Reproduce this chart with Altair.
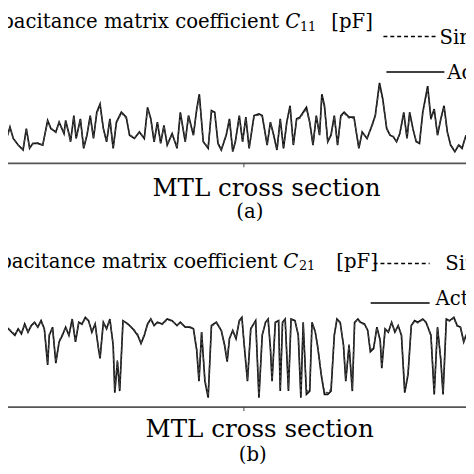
import pandas as pd
import altair as alt

# positions along the MTL cross section (arbitrary sample units)
A_POS = [0, 15, 30, 40, 55, 70, 80, 90, 100, 115,
         130, 145, 155, 170, 180, 195, 200, 210, 215, 225,
         232, 245, 255, 265, 275, 285, 295, 305, 315, 325,
         335, 345, 355, 370, 385, 395, 410, 425, 440, 450,
         460, 470, 480, 490, 500, 510, 525, 540, 550, 565,
         575, 590, 600, 608, 620, 635, 645, 655, 665, 675,
         690, 700, 710, 718, 730, 740, 750, 760, 775, 790,
         800, 815, 825, 835, 845, 855, 865, 875, 885, 895,
         905, 915, 925, 935, 945, 955, 965, 975, 982, 990,
         1000, 1010, 1020, 1030, 1040, 1050, 1065, 1080, 1095, 1105,
         1120, 1135, 1145, 1158, 1168, 1180, 1190, 1200, 1210, 1220,
         1232, 1242, 1250, 1260, 1270, 1280, 1290, 1305, 1315, 1325,
         1335, 1345, 1355, 1365, 1375, 1388, 1400, 1410, 1422]

C11_ACTUAL = [0.70, 0.75, 1.25, 0.90, 0.70, 0.55, 1.20, 0.60, 0.75, 0.75,
              0.70, 1.45, 1.20, 1.10, 1.40, 1.05, 1.45, 1.05, 0.80, 1.60,
              0.90, 1.50, 0.60, 1.00, 1.60, 0.90, 1.70, 1.95, 1.20, 0.80,
              1.50, 0.60, 1.40, 1.70, 1.55, 1.00, 0.90, 1.10, 0.90, 1.85,
              1.50, 0.80, 1.40, 0.75, 1.30, 0.70, 1.05, 0.60, 1.70, 0.80,
              1.60, 1.00, 1.80, 2.25, 0.80, 0.60, 1.75, 1.70, 0.75, 0.55,
              1.00, 1.50, 0.50, 0.80, 1.60, 0.80, 1.55, 0.60, 1.60, 1.65,
              1.60, 0.70, 1.40, 1.00, 0.55, 1.50, 0.60, 1.40, 1.90, 0.70,
              1.50, 1.55, 1.70, 1.85, 1.40, 0.70, 1.60, 1.00, 2.25, 1.90,
              0.80, 1.00, 1.60, 0.70, 1.60, 1.70, 1.55, 1.55, 0.60, 1.10,
              0.90, 1.30, 1.60, 2.60, 2.10, 1.20, 1.00, 0.95, 0.80, 1.05,
              1.70, 0.90, 1.70, 1.20, 0.80, 0.75, 1.70, 2.50, 1.50, 1.80,
              1.00, 1.50, 1.90, 1.10, 0.70, 0.50, 0.70, 0.60, 1.00]

C11_SIM = [0.72, 0.74, 1.22, 0.92, 0.70, 0.57, 1.17, 0.62, 0.74, 0.77,
           0.70, 1.42, 1.22, 1.08, 1.38, 1.07, 1.42, 1.03, 0.83, 1.56,
           0.92, 1.47, 0.62, 1.02, 1.57, 0.92, 1.66, 1.90, 1.22, 0.82,
           1.47, 0.62, 1.38, 1.67, 1.52, 1.02, 0.92, 1.08, 0.92, 1.80,
           1.48, 0.82, 1.37, 0.77, 1.28, 0.72, 1.03, 0.62, 1.66, 0.82,
           1.57, 1.02, 1.76, 2.18, 0.82, 0.62, 1.72, 1.67, 0.77, 0.57,
           1.02, 1.47, 0.52, 0.82, 1.57, 0.82, 1.52, 0.62, 1.57, 1.62,
           1.57, 0.72, 1.38, 1.02, 0.57, 1.47, 0.62, 1.38, 1.85, 0.72,
           1.47, 1.52, 1.67, 1.80, 1.38, 0.72, 1.57, 1.02, 2.18, 1.86,
           0.82, 1.02, 1.57, 0.72, 1.57, 1.67, 1.52, 1.52, 0.62, 1.08,
           0.92, 1.28, 1.57, 2.52, 2.05, 1.22, 1.02, 0.97, 0.82, 1.03,
           1.66, 0.92, 1.66, 1.18, 0.82, 0.77, 1.66, 2.43, 1.48, 1.76,
           1.02, 1.47, 1.85, 1.08, 0.72, 0.52, 0.72, 0.62, 0.98]

B_POS = [0, 15, 30, 45, 55, 65, 75, 85, 95, 105,
         115, 125, 135, 145, 150, 160, 170, 180, 190, 200,
         210, 220, 230, 240, 250, 260, 270, 280, 290, 300,
         305, 315, 325, 335, 345, 350, 358, 365, 375, 390,
         405, 420, 430, 440, 450, 460, 470, 480, 495, 510,
         525, 540, 550, 565, 580, 590, 600, 607, 615, 625,
         635, 645, 660, 675, 685, 693, 700, 710, 720, 730,
         738, 745, 755, 765, 780, 790, 800, 810, 818, 825,
         830, 840, 850, 855, 862, 870, 880, 888, 900, 910,
         918, 925, 935, 945, 952, 962, 970, 980, 990, 1000,
         1010, 1020, 1028, 1038, 1048, 1055, 1065, 1075, 1082, 1092,
         1100, 1112, 1122, 1130, 1140, 1150, 1160, 1165, 1175, 1185,
         1195, 1205, 1215, 1225, 1235, 1245, 1255, 1265, 1275, 1290,
         1300, 1315, 1325, 1335, 1345, 1352, 1362, 1372, 1385, 1395,
         1405, 1415, 1422]

C21_ACTUAL = [-0.20, -0.25, -0.40, -0.55, -0.35, -0.50, -0.20, -0.45, -0.25, -0.15,
              -0.30, -0.10, -0.35, -1.45, -0.55, -0.30, -1.40, -0.75, -0.55, -0.30,
              -0.55, -0.05, -0.75, -0.15, -0.20, 0.00, -0.10, -0.45, -0.20, -0.95,
              -1.25, -0.15, -0.35, -0.05, -0.85, -2.30, -1.35, -2.25, -0.10, -0.20,
              -0.35, -0.55, -0.80, -0.55, -0.20, -0.05, -0.25, -0.15, -0.20, -0.05,
              -0.10, -0.25, -0.15, -0.30, -0.30, -0.35, -1.00, -1.95, -0.45, -1.95,
              -2.45, -0.25, -0.15, -0.40, -0.85, -1.35, -0.65, -0.40, -0.65, -0.10,
              0.00, -0.85, -1.95, -0.35, -0.10, -2.45, -0.55, -0.15, -0.05, -0.95,
              -1.95, -0.15, -0.10, -2.25, -0.15, -0.05, -2.25, -0.05, -0.10, -0.55,
              -2.45, -0.15, -2.35, -2.25, -0.15, -0.45, -0.95, -1.75, -2.35, -2.35,
              -2.25, -0.55, -0.05, -0.15, -0.85, -1.95, -0.85, -2.25, -0.15, -0.05,
              -0.15, -0.20, -0.40, -1.05, -0.95, -0.30, -0.70, -1.55, -0.35, -0.45,
              -0.15, -0.45, -0.25, -0.55, -2.30, -1.75, -0.25, -0.10, -0.15, -0.05,
              -0.15, -0.55, -2.35, -0.30, -1.30, -2.35, -0.05, -0.10, 0.00, -0.25,
              -0.30, -0.75, -0.55]

C21_SIM = [-0.22, -0.27, -0.38, -0.52, -0.37, -0.48, -0.22, -0.43, -0.27, -0.17,
           -0.28, -0.12, -0.37, -1.40, -0.52, -0.32, -1.35, -0.72, -0.52, -0.32,
           -0.52, -0.07, -0.72, -0.17, -0.22, -0.02, -0.12, -0.43, -0.22, -0.92,
           -1.20, -0.17, -0.33, -0.07, -0.82, -2.22, -1.30, -2.18, -0.12, -0.22,
           -0.33, -0.52, -0.77, -0.52, -0.22, -0.07, -0.23, -0.17, -0.22, -0.07,
           -0.12, -0.23, -0.17, -0.28, -0.32, -0.33, -0.96, -1.88, -0.43, -1.90,
           -2.38, -0.27, -0.17, -0.38, -0.82, -1.30, -0.62, -0.42, -0.62, -0.12,
           -0.02, -0.82, -1.90, -0.33, -0.12, -2.38, -0.52, -0.17, -0.07, -0.92,
           -1.90, -0.17, -0.12, -2.18, -0.17, -0.07, -2.18, -0.07, -0.12, -0.52,
           -2.38, -0.17, -2.28, -2.18, -0.17, -0.43, -0.92, -1.70, -2.28, -2.30,
           -2.18, -0.52, -0.07, -0.17, -0.82, -1.90, -0.82, -2.18, -0.17, -0.07,
           -0.17, -0.22, -0.38, -1.00, -0.92, -0.32, -0.67, -1.50, -0.37, -0.43,
           -0.17, -0.43, -0.27, -0.52, -2.22, -1.70, -0.27, -0.12, -0.17, -0.07,
           -0.17, -0.52, -2.28, -0.32, -1.25, -2.28, -0.07, -0.12, -0.02, -0.27,
           -0.28, -0.72, -0.52]

FONT = "DejaVu Serif"
W, H = 466, 466
ONE = pd.DataFrame({"k": [0]})

df_a = pd.DataFrame({"pos": A_POS, "actual": C11_ACTUAL, "sim": C11_SIM})
df_b = pd.DataFrame({"pos": B_POS, "actual": C21_ACTUAL, "sim": C21_SIM})

xs = alt.Scale(domain=[24, 1422], nice=False, zero=False)
ys_a = alt.Scale(domain=[0, 3], range=[158.7, 58.7], nice=False, zero=False)
ys_b = alt.Scale(domain=[-3, 0], range=[410.7, 310.7], nice=False, zero=False)


def curve(df, col, yscale, dashed):
    style = dict(color="#444", strokeWidth=1.3, strokeDash=[3, 2]) if dashed \
        else dict(color="#111", strokeWidth=1.7)
    return alt.Chart(df).mark_line(clip=True, **style).encode(
        x=alt.X("pos:Q", scale=xs, axis=None),
        y=alt.Y(f"{col}:Q", scale=yscale, axis=None),
    )


def label(text, x, y, size=20, style="normal", align="left", baseline="alphabetic"):
    return alt.Chart(ONE).mark_text(
        text=text, font=FONT, fontSize=size, fontStyle=style,
        align=align, baseline=baseline, color="black"
    ).encode(x=alt.value(x), y=alt.value(y))


def seg(x1, x2, y, dash=None, width=1.5, color="black"):
    kw = dict(color=color, strokeWidth=width)
    if dash:
        kw["strokeDash"] = dash
    return alt.Chart(ONE).mark_rule(**kw).encode(
        x=alt.value(x1), x2=alt.value(x2), y=alt.value(y))


def tick(x, y1, y2):
    return alt.Chart(ONE).mark_rule(color="#444", strokeWidth=1).encode(
        x=alt.value(x), y=alt.value(y1), y2=alt.value(y2))


layers = [
    # panel (a)
    label("Capacitance matrix coefficient", 276, 16, align="right"),
    label("C", 282, 16, style="italic"),
    label("11", 297, 19, size=13),
    label("[pF]", 329, 16),
    seg(382, 435, 25, dash=[4, 3]),
    label("Simulated", 439, 27, baseline="middle"),
    seg(385, 444, 61),
    label("Actual", 447, 62, baseline="middle"),
    curve(df_a, "actual", ys_a, False),
    curve(df_a, "sim", ys_a, True),
    seg(0, W, 154, width=1.6, color="#555"),
    tick(240, 154, 158),
    label("MTL cross section", 263, 187, size=25, align="center"),
    label("(a)", 246, 210, size=20, align="center"),
    # panel (b)
    label("Capacitance matrix coefficient", 274, 260, align="right"),
    label("C", 280, 260, style="italic"),
    label("21", 296, 263, size=13),
    label("[pF]", 334, 260),
    seg(372, 429, 256, dash=[4, 3]),
    label("Simulated", 445, 256, baseline="middle"),
    seg(369, 429, 296),
    label("Actual", 435, 292, baseline="middle"),
    curve(df_b, "actual", ys_b, False),
    curve(df_b, "sim", ys_b, True),
    seg(0, W, 402, width=1.6, color="#555"),
    tick(240, 402, 406),
    label("MTL cross section", 256, 432, size=25, align="center"),
    label("(b)", 249, 457, size=20, align="center"),
]

chart = alt.layer(*layers).resolve_scale(y="independent").properties(
    width=W, height=H,
    autosize=alt.AutoSizeParams(type="none"),
    padding=0,
).configure_view(stroke=None)

chart.save("out.html", embed_options={"renderer": "svg", "actions": False})
